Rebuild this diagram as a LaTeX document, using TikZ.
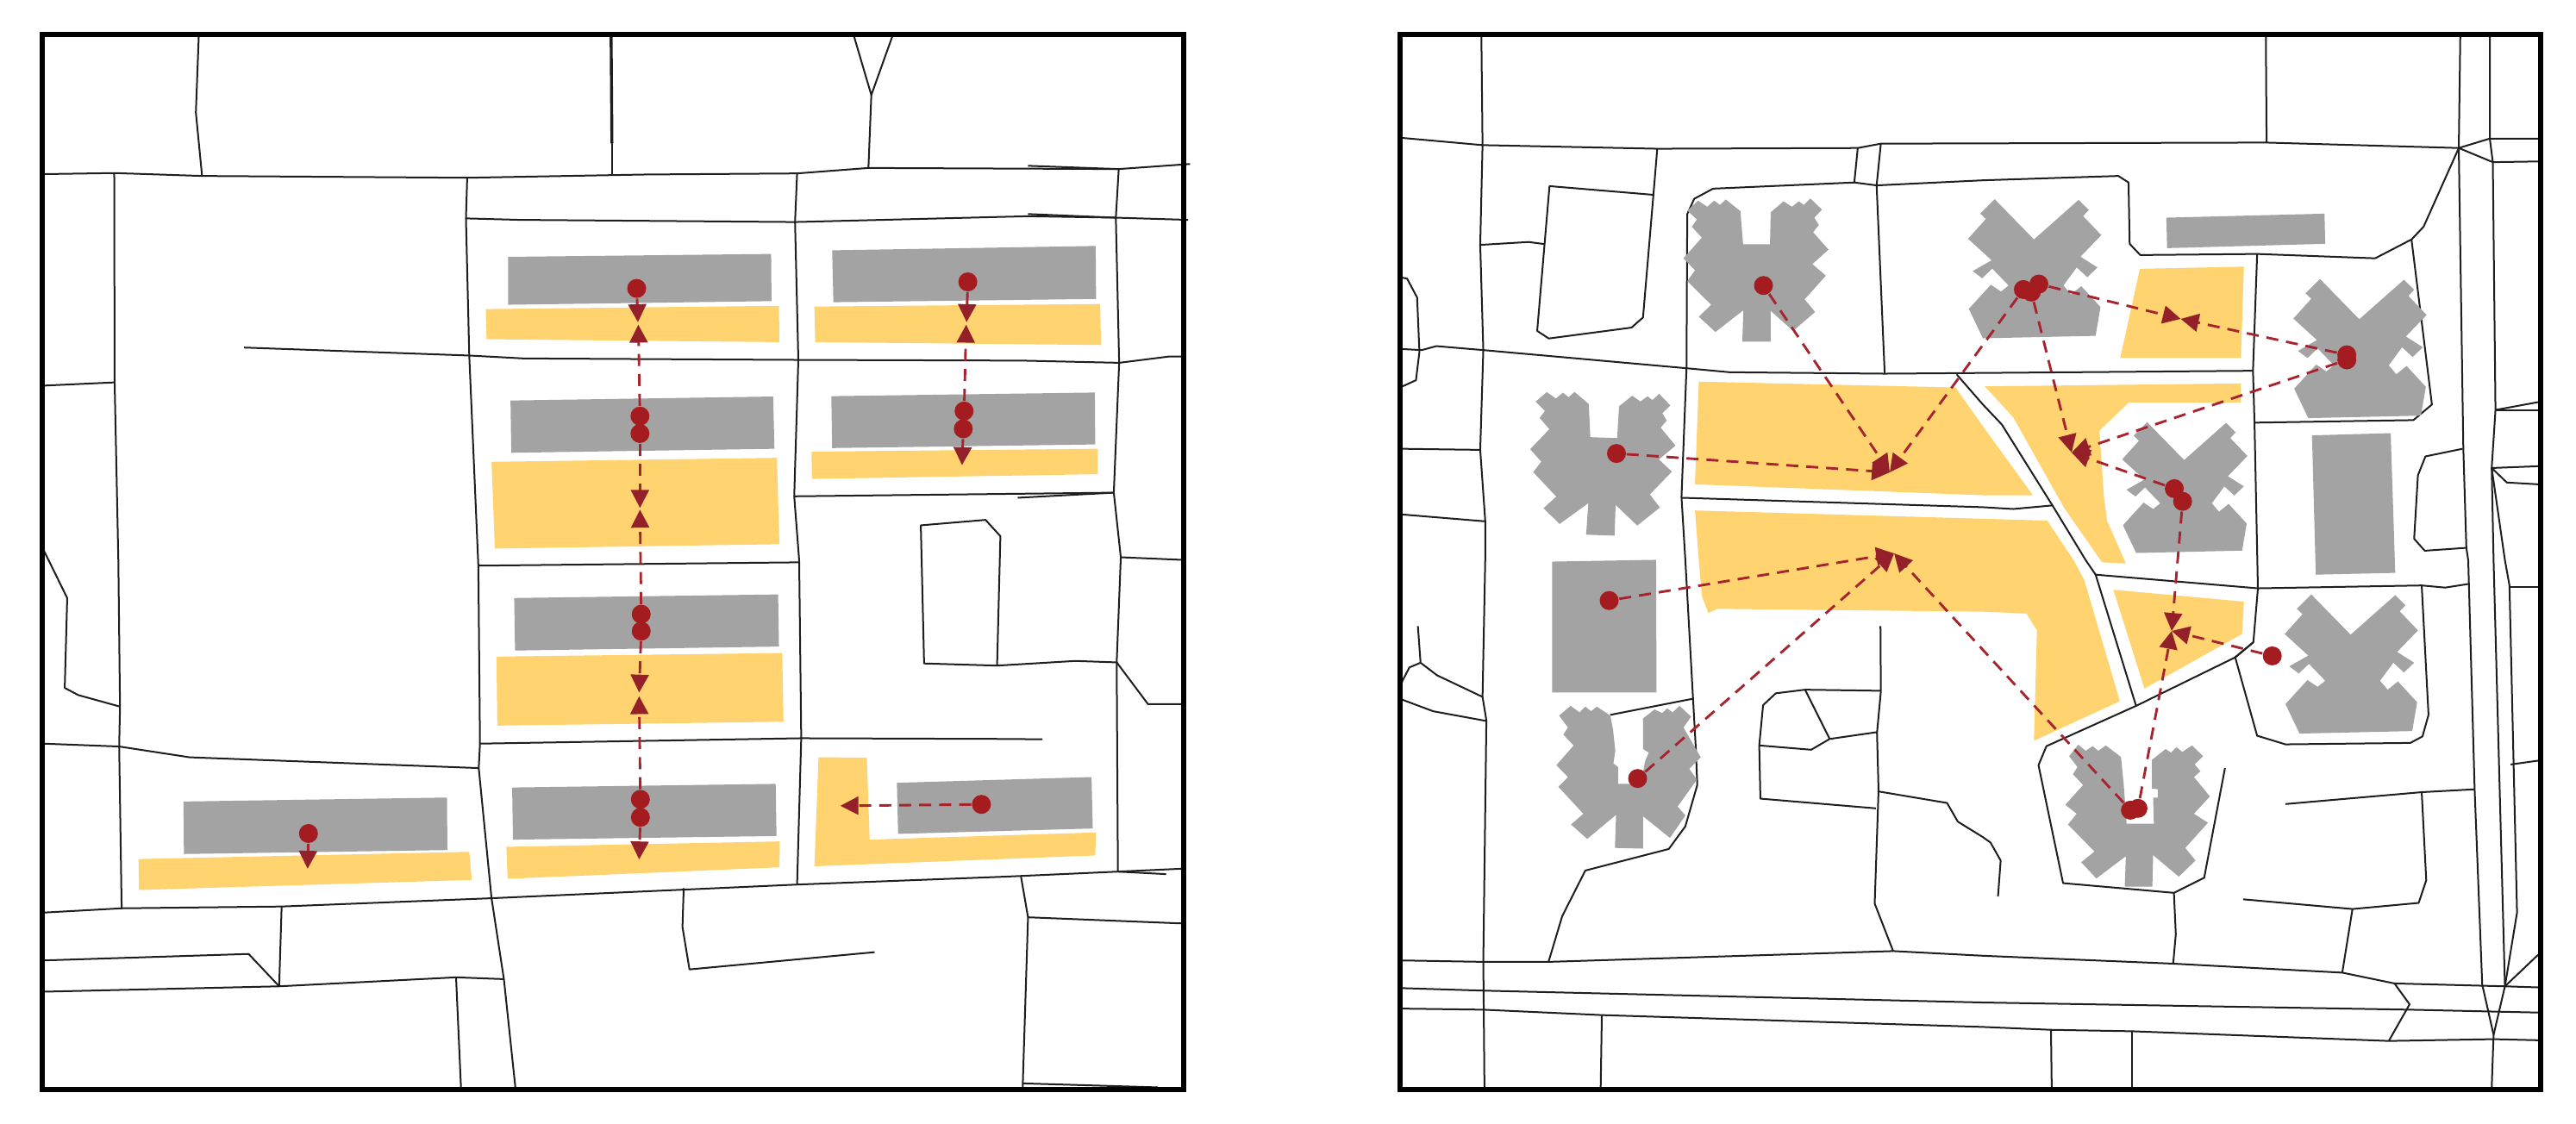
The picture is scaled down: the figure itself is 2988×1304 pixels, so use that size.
\documentclass[tikz,border=0pt]{standalone}
\usetikzlibrary{arrows.meta}
\definecolor{roadc}{HTML}{1E1E1E}
\definecolor{blockc}{HTML}{A3A3A3}
\definecolor{openc}{HTML}{FFD36F}
\definecolor{flowc}{HTML}{A5242E}
\definecolor{dotc}{HTML}{A51C20}
\def\tilecoord#1#2#3#4#5,#6\relax{\pgfpointxy{#1+#5*#3}{#2+#6*#4}}
\tikzdeclarecoordinatesystem{A}{\tilecoord{0}{0}{.4783}{.4209}#1\relax}
\tikzdeclarecoordinatesystem{B}{\tilecoord{750}{0}{.4783}{.4209}#1\relax}
\tikzdeclarecoordinatesystem{C}{\tilecoord{0}{650}{.4783}{.4171}#1\relax}
\tikzdeclarecoordinatesystem{D}{\tilecoord{750}{650}{.4783}{.4171}#1\relax}
\tikzdeclarecoordinatesystem{E}{\tilecoord{1600}{0}{.4464}{.4209}#1\relax}
\tikzdeclarecoordinatesystem{F}{\tilecoord{2300}{0}{.4388}{.4209}#1\relax}
\tikzdeclarecoordinatesystem{G}{\tilecoord{1600}{650}{.4464}{.4171}#1\relax}
\tikzdeclarecoordinatesystem{H}{\tilecoord{2300}{650}{.4388}{.4171}#1\relax}
\tikzset{
  road/.style={draw=roadc,line width=.5pt,line join=round},
  heavy/.style={draw=roadc,line width=.85pt},
  frame/.style={draw=black,line width=1.4pt},
  bld/.style={fill=blockc},
  open/.style={fill=openc},
  spot/.style={circle,fill=dotc,inner sep=0pt,minimum size=5.5pt},
  flow/.style={draw=flowc,line width=.72pt,dash pattern=on 3.5pt off 2.3pt,
    -{Triangle[length=5.2pt,width=5.2pt,color=flowc!90!black]}},
  xblock/.pic={\fill[bld] (-45.6,-46.7)--(-62.3,-30)--(-55.7,-23.8)--(-76.4,-.8)--(-49.1,24.2)--(-71.1,36.7)--(-60.1,45)--(-48.3,33.8)--(-29.4,53.4)--(-38.2,60.5)--(-50,52.6)--(-75.5,80.5)--(-59.2,114.7)--(71.5,111.8)--(77.2,78.4)--(54.9,54.2)--(43,63.8)--(34.2,53.4)--(49.6,32.5)--(61.9,43.8)--(73.7,32.5)--(54,20)--(78.1,-5)--(57,-27.1)--(63.6,-34.2)--(51.8,-45.9)--(0,0)--cycle;},
  ublock/.pic={\fill[bld] (-52.2,-50.5)--(-41.5,-43.4)--(-33.5,-50.5)--(-26.8,-45.5)--(-20.1,-51.8)--(-3.1,-38.3)--(0,0)--(31.2,0)--(32.1,-37)--(46.9,-49.7)--(56.7,-43.4)--(64.7,-49.7)--(70.5,-45.5)--(78.1,-53)--(91.5,-40)--(82.6,-30.7)--(87.9,-22.3)--(81.2,-13.9)--(99.1,6.3)--(80.4,23.1)--(96,36.6)--(71.4,64)--(83.5,78.7)--(58,100.6)--(32.1,77.4)--(32.1,113.2)--(-.9,113.2)--(.4,76.6)--(-32.1,101.9)--(-51.3,84.2)--(-37,70.3)--(-64.7,42.9)--(-55.8,30.3)--(-69.2,16.4)--(-47.8,-7.6)--(-59.4,-20.2)--(-53.6,-28.6)--(-64.7,-39.1)--cycle;},
}
\begin{document}
\begin{tikzpicture}[x=.25pt,y=-.25pt]
\useasboundingbox (0,0) rectangle (2988,1304);
\fill[white] (0,0) rectangle (2988,1304);
% ---------- left panel: roads
\draw[road] (A cs:482,100)--(A cs:475,310)--(A cs:490,485);
\draw[road] (A cs:105,480)--(A cs:277,477)--(A cs:490,485)--(A cs:1133,490)--(B cs:0,481)--(B cs:365,478)--(B cs:538,463)--(B cs:1145,466)--(B cs:1318,452);
\draw[road] (B cs:925,457)--(B cs:1145,466);
\draw[road] (A cs:1484,395)--(A cs:1484,481);
\draw[heavy] (A cs:1482,100)--(A cs:1484,395);
\draw[road] (B cs:503,100)--(B cs:545,262)--(B cs:596,100);
\draw[road] (B cs:545,262)--(B cs:538,463);
\draw[road] (A cs:277,477)--(A cs:278,1054)--(C cs:287,0)--(C cs:291,407)--(C cs:289,518)--(C cs:295,968);
\draw[road] (A cs:105,1063)--(A cs:278,1054);
\draw[road] (A cs:105,1515)--(C cs:118,0)--(C cs:163,105)--(C cs:157,355)--(C cs:190,375)--(C cs:291,407);
\draw[road] (C cs:105,510)--(C cs:289,518)--(C cs:460,548)--(C cs:1161,578);
\draw[road] (A cs:1133,490)--(A cs:1130,602)--(A cs:1138,980)--(C cs:1160,15)--(C cs:1164,510)--(C cs:1161,578)--(C cs:1192,940)--(C cs:1222,1165)--(C cs:1250,1468);
\draw[road] (A cs:1130,602)--(A cs:1260,606)--(B cs:360,612)--(B cs:925,596)--(B cs:1138,600)--(B cs:1313,606);
\draw[road] (B cs:925,590)--(B cs:1138,600);
\draw[road] (A cs:592,958)--(A cs:1138,980)--(A cs:1270,988)--(B cs:368,992)--(B cs:910,994)--(B cs:1146,1000)--(B cs:1265,983)--(B cs:1298,983);
\draw[road] (B cs:365,478)--(B cs:360,612)--(B cs:368,992)--(B cs:358,1368)--(D cs:370,0)--(D cs:375,495)--(D cs:365,902);
\draw[road] (B cs:1145,466)--(B cs:1138,600)--(B cs:1146,1000)--(B cs:1133,1358)--(B cs:1150,1536)--(D cs:1140,285)--(D cs:1143,866);
\draw[road] (C cs:1160,15)--(B cs:368,1550);
\draw[road] (B cs:358,1368)--(B cs:1133,1358);
\draw[road] (B cs:900,1372)--(B cs:1133,1358);
\draw[road] (B cs:1150,1536)--(B cs:1296,1543);
\draw[road] (B cs:665,1448)--(B cs:822,1433)--(B cs:858,1478)--(D cs:850,293)--(D cs:673,287)--cycle;
\draw[road] (D cs:850,293)--(D cs:1040,280)--(D cs:1140,284)--(D cs:1216,400)--(D cs:1296,400);
\draw[road] (C cs:1165,510)--(D cs:375,495)--(D cs:880,497)--(D cs:960,498);
\draw[road] (C cs:105,980)--(C cs:295,968)--(C cs:683,963)--(C cs:1192,940)--(D cs:365,902)--(D cs:870,880)--(D cs:1143,866)--(D cs:1296,858);
\draw[road] (D cs:1143,866)--(D cs:1260,873);
\draw[road] (C cs:683,963)--(C cs:677,1185);
\draw[road] (C cs:105,1113)--(C cs:603,1095)--(C cs:677,1185);
\draw[road] (C cs:105,1200)--(C cs:677,1185)--(C cs:1106,1160)--(C cs:1222,1165);
\draw[road] (C cs:1106,1160)--(C cs:1118,1468);
\draw[road] (D cs:90,912)--(D cs:87,1020)--(D cs:104,1138)--(D cs:553,1090);
\draw[road] (D cs:908,880)--(D cs:925,993)--(D cs:912,1468);
\draw[road] (D cs:925,993)--(D cs:1296,1010);
\draw[road] (D cs:912,1455)--(D cs:1240,1466);
% ---------- left panel: open space and blocks
\fill[open] (A cs:1178,852)--(B cs:321,843)--(B cs:322,943)--(A cs:1180,935)--cycle;
\fill[open] (A cs:1192,1273)--(B cs:316,1262)--(B cs:322,1500)--(A cs:1200,1512)--cycle;
\fill[open] (C cs:1204,268)--(D cs:329,258)--(D cs:332,449)--(C cs:1206,460)--cycle;
\fill[open] (C cs:1228,797)--(D cs:323,782)--(D cs:322,854)--(C cs:1231,886)--cycle;
\fill[open] (B cs:407,845)--(B cs:1100,838)--(B cs:1102,951)--(B cs:409,943)--cycle;
\fill[open] (B cs:400,1245)--(B cs:1094,1237)--(B cs:1094,1307)--(B cs:401,1320)--cycle;
\fill[open] (C cs:336,831)--(C cs:1138,811)--(C cs:1144,889)--(C cs:337,917)--cycle;
\fill[open] (D cs:417,548)--(D cs:534,549)--(D cs:541,777)--(D cs:1090,757)--(D cs:1088,821)--(D cs:407,851)--cycle;
\fill[bld] (A cs:1232,708)--(B cs:302,700)--(B cs:303,830)--(A cs:1232,840)--cycle;
\fill[bld] (A cs:1238,1104)--(B cs:307,1093)--(B cs:310,1237)--(A cs:1240,1248)--cycle;
\fill[bld] (C cs:1247,105)--(D cs:319,95)--(D cs:321,240)--(C cs:1249,251)--cycle;
\fill[bld] (C cs:1242,632)--(D cs:313,622)--(D cs:315,767)--(C cs:1244,777)--cycle;
\fill[bld] (B cs:450,690)--(B cs:1089,678)--(B cs:1090,824)--(B cs:453,833)--cycle;
\fill[bld] (B cs:448,1092)--(B cs:1087,1082)--(B cs:1088,1225)--(B cs:450,1235)--cycle;
\fill[bld] (C cs:445,671)--(C cs:1084,660)--(C cs:1085,806)--(C cs:446,817)--cycle;
\fill[bld] (D cs:607,619)--(D cs:1079,603)--(D cs:1082,746)--(D cs:610,761)--cycle;
% ---------- right panel: roads
\draw[road] (E cs:265,100)--(E cs:268,400)--(E cs:262,675)--(E cs:270,965)--(E cs:262,1240)--(E cs:275,1435)--(G cs:275,0)--(G cs:268,380)--(G cs:278,445)--(G cs:270,1115)--(G cs:273,1468);
\draw[road] (E cs:58,380)--(E cs:268,400)--(E cs:722,410)--(E cs:1243,408)--(E cs:1303,396)--(F cs:748,393)--(F cs:1258,408);
\draw[road] (E cs:722,410)--(E cs:712,537)--(E cs:685,875)--(E cs:655,903)--(E cs:440,933)--(E cs:410,912)--(E cs:442,513)--(E cs:712,537);
\draw[road] (E cs:262,675)--(E cs:388,667)--(E cs:430,673);
\draw[road] (E cs:58,765)--(E cs:72,768)--(E cs:98,820)--(E cs:104,970)--(E cs:95,1048)--(E cs:60,1065);
\draw[road] (E cs:58,962)--(E cs:110,965)--(E cs:148,954)--(E cs:270,965)--(E cs:798,1015)--(E cs:910,1026)--(E cs:1313,1030)--(F cs:0,1028)--(F cs:714,1022);
\draw[road] (E cs:1243,408)--(E cs:1234,503)--(E cs:1292,511)--(E cs:1303,396);
\draw[road] (E cs:1234,503)--(E cs:867,520)--(E cs:818,548)--(E cs:800,590)--(E cs:798,1015)--(E cs:785,1370)--(G cs:795,0)--(G cs:815,385)--(G cs:822,520)--(G cs:826,625)--(G cs:795,740)--(G cs:752,803)--(G cs:535,863)--(G cs:475,990)--(G cs:440,1115);
\draw[road] (E cs:1292,511)--(E cs:1313,1030);
\draw[road] (E cs:1292,511)--(F cs:0,497)--(F cs:358,485)--(F cs:385,503)--(F cs:388,672)--(F cs:416,703)--(F cs:725,700)--(F cs:1037,712)--(F cs:1133,660)--(F cs:1165,625)--(F cs:1258,408);
\draw[road] (F cs:1258,408)--(F cs:1340,382)--(F cs:1470,382);
\draw[road] (F cs:1258,408)--(F cs:1348,447)--(F cs:1470,445);
\draw[road] (F cs:1262,100)--(F cs:1258,408)--(F cs:1270,1235)--(F cs:1278,1510)--(H cs:1283,0)--(H cs:1300,640)--(H cs:1320,1180)--(H cs:1350,1320)--(H cs:1345,1468);
\draw[road] (F cs:1340,100)--(F cs:1340,382)--(F cs:1348,447)--(F cs:1355,1130)--(F cs:1345,1290)--(H cs:1350,0)--(H cs:1380,1185);
\draw[road] (F cs:1345,1290)--(H cs:1380,0)--(H cs:1392,70)--(H cs:1412,980)--(H cs:1380,1185)--(H cs:1350,1320);
\draw[road] (F cs:1345,1290)--(F cs:1385,1330)--(F cs:1470,1335);
\draw[road] (F cs:1345,1290)--(F cs:1470,1285);
\draw[road] (F cs:1355,1130)--(F cs:1470,1108);
\draw[road] (F cs:1355,1130)--(F cs:1470,1130);
\draw[road] (H cs:1392,75)--(H cs:1470,75);
\draw[road] (H cs:1395,568)--(H cs:1470,557);
\draw[road] (F cs:725,700)--(F cs:714,1022)--(F cs:718,1165)--(H cs:727,78)--(H cs:715,228)--(H cs:667,270)--(H cs:725,488)--(H cs:800,512)--(H cs:1130,508)--(H cs:1162,490)--(H cs:1178,430)--(H cs:1160,70);
\draw[road] (F cs:1133,660)--(F cs:1187,1115)--(F cs:1138,1158)--(F cs:718,1165);
\draw[road] (F cs:748,100)--(F cs:750,393);
\draw[road] (F cs:1268,1237)--(F cs:1170,1258)--(F cs:1150,1310)--(F cs:1140,1485)--(F cs:1168,1518)--(F cs:1278,1510);
\draw[road] (H cs:727,78)--(H cs:1160,70)--(H cs:1222,76)--(H cs:1283,66);
\draw[road] (H cs:727,78)--(H cs:298,40)--(H cs:272,0)--(F cs:185,1395)--(F cs:50,1170)--(F cs:0,1115)--(E cs:1500,1032);
\draw[road] (E cs:785,1372)--(F cs:0,1398)--(F cs:80,1403)--(F cs:185,1393);
\draw[road] (H cs:298,40)--(H cs:405,405);
\draw[road] (H cs:715,228)--(H cs:667,270)--(H cs:405,405)--(H cs:168,517)--(H cs:147,570)--(H cs:212,898)--(H cs:505,925)--(H cs:585,883)--(H cs:640,578);
\draw[road] (H cs:505,925)--(H cs:510,1040)--(H cs:503,1122);
\draw[road] (G cs:58,1113)--(G cs:270,1117)--(G cs:440,1117)--(G cs:1335,1087)--(H cs:0,1100)--(H cs:503,1122)--(H cs:950,1147)--(H cs:1088,1177)--(H cs:1128,1235)--(H cs:1073,1337);
\draw[road] (H cs:1088,1177)--(H cs:1380,1185)--(H cs:1468,1188);
\draw[road] (H cs:1380,1185)--(H cs:1468,1097);
\draw[road] (G cs:58,1190)--(G cs:270,1197)--(H cs:0,1230)--(H cs:1128,1250)--(H cs:1468,1258);
\draw[road] (G cs:58,1247)--(G cs:270,1250)--(G cs:578,1265)--(H cs:0,1298)--(H cs:180,1306)--(H cs:395,1310)--(H cs:1073,1337)--(H cs:1350,1332)--(H cs:1468,1335);
\draw[road] (G cs:578,1265)--(G cs:575,1468);
\draw[road] (H cs:180,1306)--(H cs:182,1468);
\draw[road] (H cs:395,1310)--(H cs:395,1468);
\draw[road] (G cs:1335,1087)--(G cs:1287,955)--(G cs:1297,640)--(G cs:1293,480)--(G cs:1303,365)--(G cs:1302,183);
\draw[road] (G cs:1297,643)--(G cs:1475,675)--(G cs:1503,727)--(H cs:0,770)--(H cs:20,785)--(H cs:47,835)--(H cs:40,935);
\draw[road] (G cs:1303,363)--(G cs:1106,360)--(G cs:1030,370)--(G cs:997,403)--(G cs:987,515)--(G cs:990,663)--(G cs:1290,690);
\draw[road] (G cs:987,515)--(G cs:1122,527)--(G cs:1170,497)--(G cs:1293,478);
\draw[road] (G cs:1106,360)--(G cs:1170,497);
\draw[road] (E cs:58,1237)--(E cs:262,1240);
\draw[road] (E cs:58,1418)--(E cs:275,1437);
\draw[road] (G cs:100,183)--(G cs:107,285)--(G cs:150,320)--(G cs:268,380);
\draw[road] (G cs:107,285)--(G cs:78,298)--(G cs:60,335)--(G cs:50,370)--(G cs:60,388)--(G cs:140,420)--(G cs:278,447);
\draw[road] (G cs:600,430)--(G cs:815,385);
\draw[road] (H cs:800,678)--(H cs:1160,645)--(H cs:1300,637);
\draw[road] (H cs:1160,645)--(H cs:1172,890)--(H cs:1152,953)--(H cs:977,970)--(H cs:688,943);
\draw[road] (H cs:977,970)--(H cs:950,1147);
% ---------- right panel: open space
\fill[open] (E cs:830,1052)--(E cs:1497,1068)--(F cs:0,1175)--(F cs:132,1365)--(E cs:1568,1365)--(E cs:820,1335)--cycle;
\fill[open] (E cs:820,1407)--(F cs:170,1435)--(H cs:240,0)--(H cs:268,55)--(H cs:362,392)--(H cs:135,502)--(H cs:143,195)--(H cs:115,148)--(G cs:1568,143)--(G cs:878,135)--(G cs:855,147)--(G cs:838,100)--(G cs:830,0)--cycle;
\fill[open] (F cs:415,741)--(F cs:690,735)--(F cs:682,987)--(F cs:363,987)--cycle;
\fill[open] (F cs:5,1065)--(F cs:682,1057)--(F cs:682,1110)--(F cs:385,1110)--(F cs:308,1187)--(F cs:320,1370)--(F cs:328,1435)--(F cs:378,1553)--(F cs:315,1550)--(F cs:215,1400)--(F cs:80,1150)--cycle;
\fill[open] (H cs:345,82)--(H cs:690,115)--(H cs:685,205)--(H cs:427,357)--cycle;
% ---------- right panel: blocks
\fill[bld] (F cs:485,600)--(F cs:903,589)--(F cs:905,672)--(F cs:487,684)--cycle;
\fill[bld] (F cs:870,1200)--(F cs:1078,1194)--(H cs:1090,35)--(H cs:880,40)--cycle;
\fill[bld] (E cs:449,1548)--(E cs:719,1543)--(G cs:719,0)--(G cs:720,368)--(G cs:449,368)--cycle;
\pic at (H cs:972,207) {xblock};
\pic at (F cs:995,880) {xblock};
\pic[scale=.94] at (F cs:532,1268) {xblock};
\pic at (F cs:135,660) {xblock};
\pic at (E cs:945,673) {ublock};
\pic[rotate=-2] at (E cs:548,1205) {ublock};
\fill[bld] (G cs:497,405)--(G cs:520,423)--(G cs:535,407)--(G cs:550,420)--(G cs:565,407)--(G cs:600,432)--(G cs:607,470)--(G cs:613,530)--(G cs:608,565)--(G cs:620,575)--(G cs:620,622)--(G cs:680,622)--(G cs:690,560)--(G cs:700,535)--(G cs:685,525)--(G cs:685,440)--(G cs:715,415)--(G cs:735,425)--(G cs:748,412)--(G cs:762,423)--(G cs:780,405)--(G cs:810,435)--(G cs:790,465)--(G cs:835,548)--(G cs:805,580)--(G cs:825,610)--(G cs:775,685)--(G cs:795,710)--(G cs:755,772)--(G cs:685,712)--(G cs:685,802)--(G cs:612,800)--(G cs:615,708)--(G cs:540,775)--(G cs:498,735)--(G cs:530,705)--(G cs:465,630)--(G cs:490,603)--(G cs:460,570)--(G cs:505,515)--(G cs:478,485)--(G cs:490,465)--(G cs:467,432)--cycle;
\fill[bld] (H cs:252,513)--(H cs:272,530)--(H cs:290,517)--(H cs:305,530)--(H cs:325,515)--(H cs:365,547)--(H cs:372,620)--(H cs:380,733)--(H cs:452,733)--(H cs:450,660)--(H cs:462,660)--(H cs:462,637)--(H cs:447,635)--(H cs:447,555)--(H cs:483,525)--(H cs:497,535)--(H cs:512,520)--(H cs:527,533)--(H cs:553,515)--(H cs:582,545)--(H cs:560,568)--(H cs:575,587)--(H cs:558,603)--(H cs:600,657)--(H cs:558,705)--(H cs:595,730)--(H cs:535,800)--(H cs:562,835)--(H cs:518,880)--(H cs:450,820)--(H cs:448,908)--(H cs:375,908)--(H cs:378,823)--(H cs:300,885)--(H cs:260,840)--(H cs:295,810)--(H cs:225,735)--(H cs:248,705)--(H cs:218,680)--(H cs:265,625)--(H cs:238,595)--(H cs:250,575)--(H cs:228,545)--cycle;
% ---------- frames
\draw[frame] (A cs:103,95) rectangle (D cs:1302,1472);
\draw[frame] (E cs:54,95) rectangle (H cs:1474,1472);
% ---------- left panel: access points and flows
\node[spot] (a1) at (A cs:1544,795) {};
\node[spot] (a2) at (A cs:1552,1147) {};
\node[spot] (a3) at (A cs:1552,1195) {};
\node[spot] (a4) at (C cs:1555,150) {};
\node[spot] (a5) at (C cs:1555,197) {};
\node[spot] (a6) at (C cs:1553,665) {};
\node[spot] (a7) at (C cs:1553,715) {};
\node[spot] (b1) at (B cs:779,777) {};
\node[spot] (b2) at (B cs:770,1133) {};
\node[spot] (b3) at (B cs:768,1182) {};
\node[spot] (c1) at (C cs:748,760) {};
\node[spot] (e1) at (D cs:812,679) {};
\coordinate (ta1) at (A cs:1547,888);
\coordinate (ta2) at (A cs:1548,895);
\coordinate (ta3) at (A cs:1552,1400);
\coordinate (ta4) at (A cs:1552,1405);
\coordinate (ta5) at (C cs:1550,368);
\coordinate (ta6) at (C cs:1550,378);
\coordinate (ta7) at (C cs:1550,832);
\coordinate (tb1) at (B cs:776,888);
\coordinate (tb2) at (B cs:775,895);
\coordinate (tb3) at (B cs:765,1282);
\coordinate (tc1) at (C cs:746,858);
\coordinate (te1) at (D cs:470,683);
\draw[flow] (a1)--(ta1);
\draw[flow] (a2)--(ta2);
\draw[flow] (a3)--(ta3);
\draw[flow] (a4)--(ta4);
\draw[flow] (a5)--(ta5);
\draw[flow] (a6)--(ta6);
\draw[flow] (a7)--(ta7);
\draw[flow] (b1)--(tb1);
\draw[flow] (b2)--(tb2);
\draw[flow] (b3)--(tb3);
\draw[flow] (c1)--(tc1);
\draw[flow] (e1)--(te1);
% ---------- right panel: access points and flows
\node[spot] (p1) at (E cs:998,787) {};
\node[spot] (p2) at (E cs:616,1250) {};
\node[spot] (p3) at (G cs:597,112) {};
\node[spot] (p4) at (G cs:671,607) {};
\node[spot] (p5) at (F cs:107,798) {};
\node[spot] (p6) at (F cs:128,805) {};
\node[spot] (p7) at (F cs:148,783) {};
\node[spot] (p8) at (F cs:962,978) {};
\node[spot] (p9) at (F cs:962,992) {};
\node[spot] (p10) at (F cs:506,1347) {};
\node[spot] (p11) at (F cs:528,1382) {};
\node[spot] (p12) at (H cs:765,266) {};
\node[spot] (p13) at (H cs:390,695) {};
\node[spot] (p14) at (H cs:410,690) {};
\coordinate (q1) at (2192,548);
\coordinate (q2) at (2197,642);
\coordinate (q3) at (2403,525);
\coordinate (q4) at (2519,732);
\coordinate (q5) at (F cs:523,879);
\draw[flow] (p1)--(q1);
\draw[flow] (p2)--(q1);
\draw[flow] (p5)--(q1);
\draw[flow] (p3)--(q2);
\draw[flow] (p4)--(q2);
\draw[flow] (p13)--(q2);
\draw[flow] (p6)--(q3);
\draw[flow] (p9)--(q3);
\draw[flow] (p10)--(q3);
\draw[flow] (p11)--(q4);
\draw[flow] (p12)--(q4);
\draw[flow] (p14)--(q4);
\draw[flow] (p7)--(q5);
\draw[flow] (p8)--(q5);
\end{tikzpicture}
\end{document}
